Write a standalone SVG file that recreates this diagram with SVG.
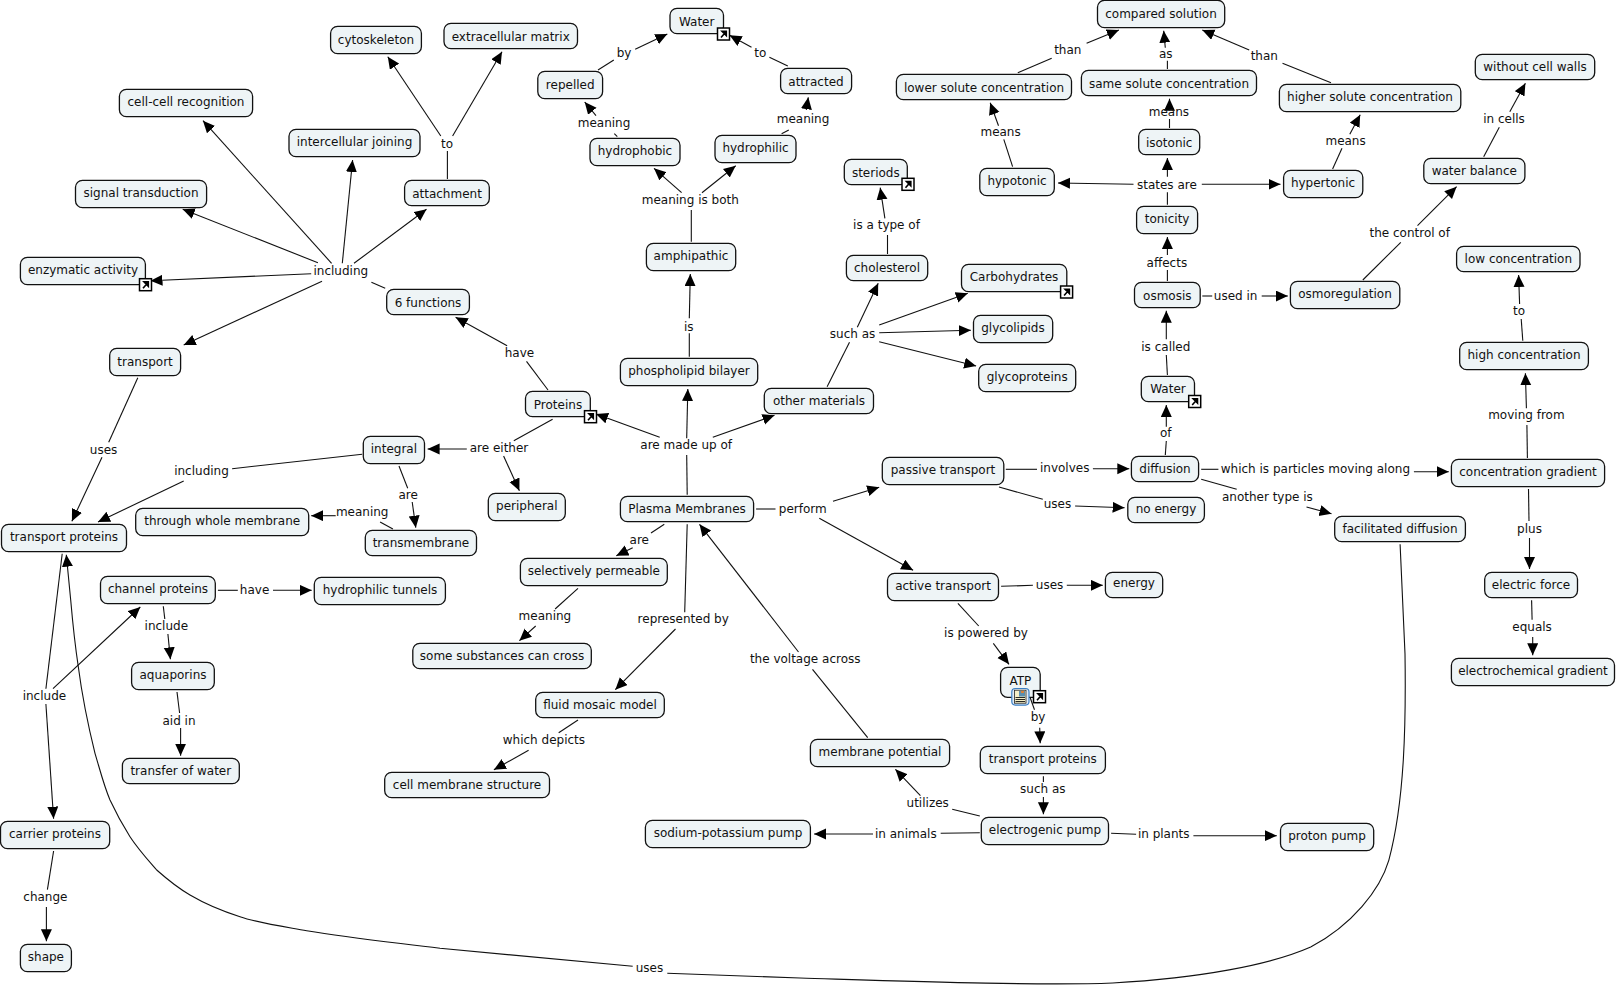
<svg xmlns="http://www.w3.org/2000/svg" width="1617" height="987" viewBox="0 0 1617 987">
<style>
text{font-family:"DejaVu Sans",Verdana,sans-serif;font-size:12px;fill:#111;text-anchor:middle}
.n rect{fill:#eef4f6;stroke:#111;stroke-width:1.3;rx:7px;ry:7px}
.c path{fill:none;stroke:#111;stroke-width:1.1}
.c path.a{marker-end:url(#arr)}
.b rect{fill:#fff;stroke:#000;stroke-width:1.5}
.b path{fill:#000;stroke:#000;stroke-width:1.6}
</style>
<defs>
<marker id="arr" markerUnits="userSpaceOnUse" markerWidth="13" markerHeight="12" refX="12" refY="5.5" orient="auto"><path d="M0,0L12,5.5L0,11Z" fill="#000"/></marker>
<g id="sc" class="b"><rect x="0" y="0" width="12" height="12"/><path d="M3.5,9.5L7,5.5M4.5,3.2H8.8V7.5Z"/></g>
</defs>
<rect width="1617" height="987" fill="#fff"/>
<g id="connectors" class="c">
<path class="a" d="M331.6 263.3L203 120.7"/>
<path class="a" d="M342.3 263.3L352.6 160"/>
<path class="a" d="M354 263.3L426.5 209.3"/>
<path class="a" d="M317.9 262.7L182.7 209.3"/>
<path class="a" d="M311.2 273.7L150.5 280.7"/>
<path class="a" d="M322 281.3L183.7 345"/>
<path d="M385.2 288.3L371.4 282.3"/>
<path d="M447.4 179L447.4 151"/>
<path class="a" d="M440.8 136L387.8 56.7"/>
<path class="a" d="M452.6 136L502 51.7"/>
<path d="M598 70L613.8 60"/>
<path class="a" d="M635.2 49.3L667.3 34"/>
<path d="M787.8 66L769.4 57.3"/>
<path class="a" d="M751.5 47.3L729.6 35.3"/>
<path d="M617.3 136.7L614.3 133.7"/>
<path class="a" d="M596 115.7L584.7 102"/>
<path d="M781.6 133.7L788.8 130"/>
<path class="a" d="M806.3 110L808.3 97.3"/>
<path d="M691.3 241.7L691.3 210"/>
<path class="a" d="M681.6 192.7L654 168.3"/>
<path class="a" d="M702 192.7L735.7 165.7"/>
<path d="M689.3 356.7L689.3 333.3"/>
<path class="a" d="M689.3 318.3L690.3 274"/>
<path d="M687.2 494.7L686.7 455"/>
<path class="a" d="M686.7 438.3L687.8 389"/>
<path class="a" d="M659.7 437.3L596 414"/>
<path class="a" d="M712.8 437.3L774.5 415.3"/>
<path d="M548 390L526.5 361.3"/>
<path class="a" d="M507.1 345.7L455.6 317.3"/>
<path d="M552.6 419.3L513.8 440.7"/>
<path class="a" d="M466.8 449L427.6 449"/>
<path class="a" d="M503.6 456L519.4 490.7"/>
<path d="M137.8 377.7L108.7 442.3"/>
<path class="a" d="M102 457.3L71.9 521.3"/>
<path d="M362.2 454.3L232.1 468.7"/>
<path class="a" d="M183.7 481L98 522"/>
<path d="M399 466L407.7 488.3"/>
<path class="a" d="M412.2 502L415.8 527.7"/>
<path d="M392.9 529L380.1 522"/>
<path class="a" d="M335.7 515.7L311.2 515.7"/>
<path d="M664.3 524.3L651 533"/>
<path class="a" d="M632.7 547.7L616.3 555.7"/>
<path d="M578 588.3L555.1 609"/>
<path class="a" d="M535.7 626L519.4 640.7"/>
<path d="M687.2 524.3L684.7 612.3"/>
<path class="a" d="M675.5 629L615.3 689.7"/>
<path d="M867.7 737.7L812.5 669.3"/>
<path class="a" d="M798.5 652L699.5 524.3"/>
<path d="M578 720L558.7 732.7"/>
<path class="a" d="M528.6 750.3L493.9 769.7"/>
<path d="M217.9 590.3L237.8 590.3"/>
<path class="a" d="M273 590.3L311.7 590.3"/>
<path d="M163.3 606.3L164.8 619"/>
<path class="a" d="M167.9 634L170.4 659.3"/>
<path d="M177 692L179.6 713"/>
<path class="a" d="M180.6 728L180.6 755.7"/>
<path d="M62.2 553.7L45.9 688.7"/>
<path class="a" d="M53 688.7L140.3 607"/>
<path class="a" d="M45.9 704L53.6 818.7"/>
<path d="M53.6 851L47.4 889.7"/>
<path class="a" d="M46.4 907L46.4 941.3"/>
<path d="M1400.1 544.3L1405 653.7C1406 720 1405 800 1388.8 860.3C1380 890 1352 925 1310.7 947C1270 965 1200 978 1112.7 983C1040 986 900 981 800 978L667.3 973.3"/>
<path class="a" d="M632.7 966.3L440 948.3C390 942 350 938 306.7 930.7C280 926 258 923 240 916.7C222 911 207 905 190 895C178 888 168 880 156.7 870C148 860 138 849 130 836.7C122 824 116 813 110 800C104 786 100 770 95 753.3C88 725 82 695 78.3 666.7C75 645 72 615 70.7 600L66.3 554.7"/>
<path d="M1017.8 72.7L1051.7 58.3"/>
<path class="a" d="M1086.6 43.3L1118.9 30"/>
<path d="M1167.4 69L1167.4 60.7"/>
<path class="a" d="M1165.3 47.7L1163.7 30.7"/>
<path d="M1331 82.7L1282.5 63.3"/>
<path class="a" d="M1249.2 50L1202.3 30"/>
<path d="M1012.6 166.7L1003.8 139.3"/>
<path class="a" d="M998.5 125.7L990.2 102.7"/>
<path d="M1169.5 128L1169.5 119"/>
<path class="a" d="M1169.5 110L1169.5 98.7"/>
<path d="M1332.6 169L1342 148.3"/>
<path class="a" d="M1349.8 134.3L1360.2 114.7"/>
<path d="M1167.4 204.7L1167.4 192.3"/>
<path class="a" d="M1167.4 176.7L1167.4 158"/>
<path class="a" d="M1133.5 184.3L1058 183"/>
<path class="a" d="M1201.8 184.3L1280.5 184.3"/>
<path d="M1167.4 281L1167.4 270"/>
<path class="a" d="M1167.4 255L1167.4 237"/>
<path d="M1202.3 296L1212.2 296"/>
<path class="a" d="M1261.7 296L1287.8 296"/>
<path d="M1167.4 375L1166.3 355"/>
<path class="a" d="M1166.3 339.3L1166.3 310.7"/>
<path d="M1165.3 455L1166.3 441"/>
<path class="a" d="M1166.3 426.7L1166.3 405"/>
<path d="M1362.8 280L1400.8 242.3"/>
<path class="a" d="M1417.5 225.7L1456.6 186.7"/>
<path d="M1483.7 156.7L1499.3 127.3"/>
<path class="a" d="M1509.8 111.7L1525.4 83.3"/>
<path d="M1522.8 340.7L1521.2 319"/>
<path class="a" d="M1519.6 304L1518.6 275"/>
<path d="M1527.4 458L1526.9 425"/>
<path class="a" d="M1526.4 408.3L1525.4 373.3"/>
<path d="M887.5 254L887.5 235"/>
<path class="a" d="M884.9 218.3L880.2 187.7"/>
<path d="M827.1 386.7L849.5 342.3"/>
<path class="a" d="M857.3 327.3L878.2 283.3"/>
<path class="a" d="M879.2 325L967.8 293.3"/>
<path class="a" d="M879.2 332.7L970.9 330.3"/>
<path class="a" d="M879.2 341.7L976.1 366"/>
<path d="M1005.8 469.3L1037 469.3"/>
<path class="a" d="M1092.9 468.7L1129.3 468.7"/>
<path d="M1201.2 469.3L1218.4 469.3"/>
<path class="a" d="M1413.9 471.7L1448.8 471.7"/>
<path d="M1201.2 479.3L1236.7 489.3"/>
<path class="a" d="M1306.5 507L1331.5 513.7"/>
<path d="M999 487L1042.8 499.3"/>
<path class="a" d="M1075.1 506L1124.6 507.7"/>
<path d="M756.1 509L775.5 509"/>
<path class="a" d="M833 501.3L879.2 487.3"/>
<path class="a" d="M819.3 518.3L913.1 570.3"/>
<path d="M1528.5 489L1529 521"/>
<path class="a" d="M1529.5 538L1529.5 569"/>
<path d="M1531.6 600.3L1532.1 619.7"/>
<path class="a" d="M1532.7 637L1532.7 655.3"/>
<path d="M1001.1 586.3L1032.9 585.3"/>
<path class="a" d="M1066.8 585.3L1102.8 585.3"/>
<path d="M957.9 603.3L978.7 626"/>
<path class="a" d="M993.3 643.3L1009 664.3"/>
<path d="M1029.3 695.3L1034.5 709.7"/>
<path class="a" d="M1039.7 727.7L1040.2 743.3"/>
<path d="M1043.4 776.3L1043.4 782"/>
<path class="a" d="M1043.4 797L1043.4 814.3"/>
<path d="M979.8 816L952.2 809.3"/>
<path class="a" d="M920.4 795.7L895.4 769.3"/>
<path d="M979.8 832.7L940.7 833.3"/>
<path class="a" d="M873 834L814.1 834"/>
<path d="M1111.1 833.3L1136.1 834.3"/>
<path class="a" d="M1193.4 835.7L1276.8 835.7"/>
</g>
<g id="link-labels">
<text x="340.8" y="275">including</text>
<text x="447" y="147.5">to</text>
<text x="624" y="57">by</text>
<text x="760.2" y="56.5">to</text>
<text x="604" y="127">meaning</text>
<text x="803" y="123">meaning</text>
<text x="690.3" y="204">meaning is both</text>
<text x="688.8" y="331">is</text>
<text x="686.2" y="449">are made up of</text>
<text x="519.4" y="357">have</text>
<text x="499" y="452">are either</text>
<text x="103.6" y="454">uses</text>
<text x="201.5" y="475">including</text>
<text x="408.2" y="498.5">are</text>
<text x="362.2" y="516">meaning</text>
<text x="639.3" y="544">are</text>
<text x="544.9" y="620">meaning</text>
<text x="683.2" y="622.5">represented by</text>
<text x="805.2" y="663">the voltage across</text>
<text x="543.9" y="744">which depicts</text>
<text x="254.6" y="594">have</text>
<text x="166.3" y="630">include</text>
<text x="179" y="724.5">aid in</text>
<text x="44.4" y="700">include</text>
<text x="45.4" y="901">change</text>
<text x="649.5" y="972">uses</text>
<text x="1067.8" y="54">than</text>
<text x="1165.8" y="58">as</text>
<text x="1264.3" y="60">than</text>
<text x="1000.6" y="136">means</text>
<text x="1168.9" y="116">means</text>
<text x="1345.6" y="145">means</text>
<text x="1166.9" y="188.5">states are</text>
<text x="1166.9" y="266.5">affects</text>
<text x="1235.6" y="300">used in</text>
<text x="1165.8" y="351">is called</text>
<text x="1165.8" y="437">of</text>
<text x="1409.7" y="237">the control of</text>
<text x="1504" y="123">in cells</text>
<text x="1519.1" y="315">to</text>
<text x="1526.4" y="419">moving from</text>
<text x="886.5" y="229">is a type of</text>
<text x="852.6" y="338">such as</text>
<text x="1064.7" y="472">involves</text>
<text x="1315.4" y="473">which is particles moving along</text>
<text x="1267.4" y="501">another type is</text>
<text x="1057.4" y="508">uses</text>
<text x="802.8" y="512.5">perform</text>
<text x="1529.5" y="532.5">plus</text>
<text x="1532.1" y="631">equals</text>
<text x="1049.6" y="589">uses</text>
<text x="986" y="637">is powered by</text>
<text x="1038.1" y="721">by</text>
<text x="1042.8" y="793">such as</text>
<text x="927.7" y="807">utilizes</text>
<text x="905.8" y="838">in animals</text>
<text x="1163.7" y="838">in plants</text>
</g>
<g id="n01" class="n"><rect x="330.6" y="26.3" width="90.8" height="27.4"/><text x="376" y="43.5">cytoskeleton</text></g>
<g id="n02" class="n"><rect x="444" y="23.3" width="133.5" height="25.4"/><text x="510.7" y="40.5">extracellular matrix</text></g>
<g id="n03" class="n"><rect x="670" y="8.3" width="53.5" height="25.4"/><text x="696.7" y="26">Water</text></g>
<g id="n04" class="n"><rect x="119.4" y="89.3" width="133.2" height="27.4"/><text x="186" y="106">cell-cell recognition</text></g>
<g id="n05" class="n"><rect x="289" y="129.3" width="131" height="27.4"/><text x="354.5" y="146">intercellular joining</text></g>
<g id="n06" class="n"><rect x="537.8" y="71.3" width="64.8" height="27.4"/><text x="570.2" y="88.5">repelled</text></g>
<g id="n07" class="n"><rect x="590" y="138.3" width="90" height="27.4"/><text x="635" y="155">hydrophobic</text></g>
<g id="n08" class="n"><rect x="715" y="135.3" width="81" height="27.4"/><text x="755.5" y="152">hydrophilic</text></g>
<g id="n09" class="n"><rect x="75.5" y="180.3" width="131.1" height="27.4"/><text x="141" y="197">signal transduction</text></g>
<g id="n10" class="n"><rect x="404.6" y="180.3" width="84.7" height="25.4"/><text x="447" y="197.5">attachment</text></g>
<g id="n11" class="n"><rect x="20.4" y="257.3" width="125" height="27.4"/><text x="83" y="274">enzymatic activity</text></g>
<g id="n12" class="n"><rect x="646.4" y="243.3" width="89.3" height="27.4"/><text x="691" y="260">amphipathic</text></g>
<g id="n13" class="n"><rect x="386.7" y="289.3" width="82.7" height="25.4"/><text x="428" y="306.5">6 functions</text></g>
<g id="n14" class="n"><rect x="109.7" y="348.3" width="70.9" height="27.4"/><text x="145.1" y="365.5">transport</text></g>
<g id="n15" class="n"><rect x="620.4" y="358.3" width="137.3" height="27.4"/><text x="689" y="375">phospholipid bilayer</text></g>
<g id="n16" class="n"><rect x="525.5" y="391.3" width="64.8" height="25.4"/><text x="558" y="408.5">Proteins</text></g>
<g id="n17" class="n"><rect x="363.3" y="436.3" width="61.2" height="27.4"/><text x="393.9" y="453">integral</text></g>
<g id="n18" class="n"><rect x="488.3" y="493.3" width="77" height="27.4"/><text x="526.8" y="510">peripheral</text></g>
<g id="n19" class="n"><rect x="620.4" y="496.3" width="133.2" height="25.4"/><text x="687" y="513">Plasma Membranes</text></g>
<g id="n20" class="n"><rect x="1.5" y="524.3" width="125" height="27.4"/><text x="64" y="541">transport proteins</text></g>
<g id="n21" class="n"><rect x="135.7" y="508.3" width="173" height="27.4"/><text x="222.2" y="525">through whole membrane</text></g>
<g id="n22" class="n"><rect x="365.3" y="530.3" width="111.2" height="25.4"/><text x="420.9" y="547">transmembrane</text></g>
<g id="n23" class="n"><rect x="520.4" y="558.3" width="146.9" height="27.4"/><text x="593.8" y="575">selectively permeable</text></g>
<g id="n24" class="n"><rect x="100.5" y="576.3" width="114.8" height="27.4"/><text x="158" y="593">channel proteins</text></g>
<g id="n25" class="n"><rect x="314.3" y="577.3" width="131.1" height="27.4"/><text x="380" y="594">hydrophilic tunnels</text></g>
<g id="n26" class="n"><rect x="131.6" y="662.3" width="82.7" height="27.4"/><text x="173" y="679">aquaporins</text></g>
<g id="n27" class="n"><rect x="412.8" y="643.3" width="178.5" height="25.4"/><text x="502" y="660">some substances can cross</text></g>
<g id="n28" class="n"><rect x="535.7" y="692.3" width="128.6" height="25.4"/><text x="600" y="709">fluid mosaic model</text></g>
<g id="n29" class="n"><rect x="122.4" y="758.3" width="116.9" height="25.4"/><text x="180.8" y="775">transfer of water</text></g>
<g id="n30" class="n"><rect x="384.7" y="772.3" width="164.8" height="25.4"/><text x="467" y="789">cell membrane structure</text></g>
<g id="n31" class="n"><rect x="645.4" y="820.3" width="165" height="27.4"/><text x="728" y="837">sodium-potassium pump</text></g>
<g id="n32" class="n"><rect x="0.5" y="821.3" width="109.2" height="27.4"/><text x="55" y="838">carrier proteins</text></g>
<g id="n33" class="n"><rect x="20.4" y="944.3" width="51" height="27.4"/><text x="45.9" y="961">shape</text></g>
<g id="n34" class="n"><rect x="1097.5" y="0.3" width="127.2" height="27.4"/><text x="1161" y="17.5">compared solution</text></g>
<g id="n35" class="n"><rect x="780.6" y="68.3" width="71" height="25.4"/><text x="816" y="85.5">attracted</text></g>
<g id="n36" class="n"><rect x="896.4" y="74.3" width="175.1" height="25.4"/><text x="984" y="91.5">lower solute concentration</text></g>
<g id="n37" class="n"><rect x="1081.4" y="70.3" width="175.1" height="25.4"/><text x="1169" y="87.5">same solute concentration</text></g>
<g id="n38" class="n"><rect x="1279.4" y="84.3" width="181.4" height="27.4"/><text x="1370" y="101">higher solute concentration</text></g>
<g id="n39" class="n"><rect x="1475.3" y="54.3" width="119.4" height="25.4"/><text x="1535" y="71">without cell walls</text></g>
<g id="n40" class="n"><rect x="1138.7" y="129.3" width="61" height="25.4"/><text x="1169.2" y="146.5">isotonic</text></g>
<g id="n41" class="n"><rect x="844.3" y="159.3" width="63" height="25.4"/><text x="875.8" y="176.5">steriods</text></g>
<g id="n42" class="n"><rect x="979.8" y="168.3" width="74.5" height="27.4"/><text x="1017" y="185">hypotonic</text></g>
<g id="n43" class="n"><rect x="1283.6" y="170.3" width="79.2" height="27.4"/><text x="1323" y="187">hypertonic</text></g>
<g id="n44" class="n"><rect x="1423.8" y="158.3" width="101.1" height="25.4"/><text x="1474.3" y="175">water balance</text></g>
<g id="n45" class="n"><rect x="1136.6" y="206.3" width="61" height="27.4"/><text x="1167.1" y="223">tonicity</text></g>
<g id="n46" class="n"><rect x="846.4" y="255.3" width="81.3" height="25.4"/><text x="887" y="272">cholesterol</text></g>
<g id="n47" class="n"><rect x="961.5" y="264.3" width="105.3" height="27.4"/><text x="1014" y="281">Carbohydrates</text></g>
<g id="n48" class="n"><rect x="1456.6" y="246.3" width="123.4" height="25.4"/><text x="1518.3" y="263">low concentration</text></g>
<g id="n49" class="n"><rect x="1134.5" y="282.3" width="65.7" height="25.4"/><text x="1167.3" y="299.5">osmosis</text></g>
<g id="n50" class="n"><rect x="1290.4" y="281.3" width="109.4" height="27.4"/><text x="1345" y="298">osmoregulation</text></g>
<g id="n51" class="n"><rect x="973.5" y="315.3" width="79.2" height="27.4"/><text x="1013" y="332">glycolipids</text></g>
<g id="n52" class="n"><rect x="1459.7" y="342.3" width="128.7" height="27.4"/><text x="1524" y="359">high concentration</text></g>
<g id="n53" class="n"><rect x="978.7" y="364.3" width="97" height="27.4"/><text x="1027.2" y="381">glycoproteins</text></g>
<g id="n54" class="n"><rect x="764.3" y="388.3" width="109.2" height="25.4"/><text x="819" y="405">other materials</text></g>
<g id="n55" class="n"><rect x="1141.3" y="376.3" width="53.2" height="25.4"/><text x="1168" y="393">Water</text></g>
<g id="n56" class="n"><rect x="882.3" y="457.3" width="121.5" height="27.4"/><text x="943" y="474">passive transport</text></g>
<g id="n57" class="n"><rect x="1131.4" y="456.3" width="67.2" height="25.4"/><text x="1165" y="473">diffusion</text></g>
<g id="n58" class="n"><rect x="1451.4" y="459.3" width="153.2" height="27.4"/><text x="1528" y="476">concentration gradient</text></g>
<g id="n59" class="n"><rect x="1127.8" y="497.3" width="76.6" height="25.4"/><text x="1166" y="512.8">no energy</text></g>
<g id="n60" class="n"><rect x="1334.7" y="516.3" width="130.7" height="25.4"/><text x="1400" y="533">facilitated diffusion</text></g>
<g id="n61" class="n"><rect x="887.5" y="573.3" width="111" height="27.4"/><text x="943" y="590">active transport</text></g>
<g id="n62" class="n"><rect x="1105.4" y="572.3" width="57.3" height="25.4"/><text x="1134" y="587.3">energy</text></g>
<g id="n63" class="n"><rect x="1484.7" y="572.3" width="92.8" height="25.4"/><text x="1531" y="589">electric force</text></g>
<g id="n64" class="n"><rect x="1451.4" y="658.3" width="163.1" height="27.4"/><text x="1533" y="675">electrochemical gradient</text></g>
<g id="n65" class="n"><rect x="1000.6" y="667.3" width="39.6" height="30"/><text x="1020.4" y="684.5">ATP</text></g>
<g id="n66" class="n"><rect x="810.4" y="739.3" width="139.2" height="27.4"/><text x="880" y="756">membrane potential</text></g>
<g id="n67" class="n"><rect x="980.3" y="746.3" width="125.1" height="27.4"/><text x="1042.8" y="763">transport proteins</text></g>
<g id="n68" class="n"><rect x="981.3" y="817.3" width="127.2" height="27.4"/><text x="1045" y="834">electrogenic pump</text></g>
<g id="n69" class="n"><rect x="1280.5" y="823.3" width="93.2" height="27.4"/><text x="1327" y="840">proton pump</text></g>
<g id="badges">
<use href="#sc" x="717.5" y="28"/>
<use href="#sc" x="139.5" y="278.7"/>
<use href="#sc" x="584.5" y="410.7"/>
<use href="#sc" x="902" y="178.3"/>
<use href="#sc" x="1060.6" y="286"/>
<use href="#sc" x="1188.7" y="395.5"/>
<use href="#sc" x="1033.5" y="690.7"/>
<g id="atp-icon"><rect x="1011.8" y="688.5" width="17.2" height="16.6" rx="3.5" fill="#dfeaf6" stroke="#3a7fc4" stroke-width="1.2"/><rect x="1014.5" y="690.2" width="11.5" height="13" fill="#f4efc8" stroke="#222" stroke-width=".8"/><rect x="1019" y="691" width="6" height="5.5" fill="#5a8fb0"/><path d="M1021 691h3v2h-3z" fill="#d8803a"/><path d="M1015.5 697.5H1025M1015.5 699.5H1025M1015.5 701.5H1025" stroke="#111" stroke-width=".9"/></g>
</g>
</svg>
